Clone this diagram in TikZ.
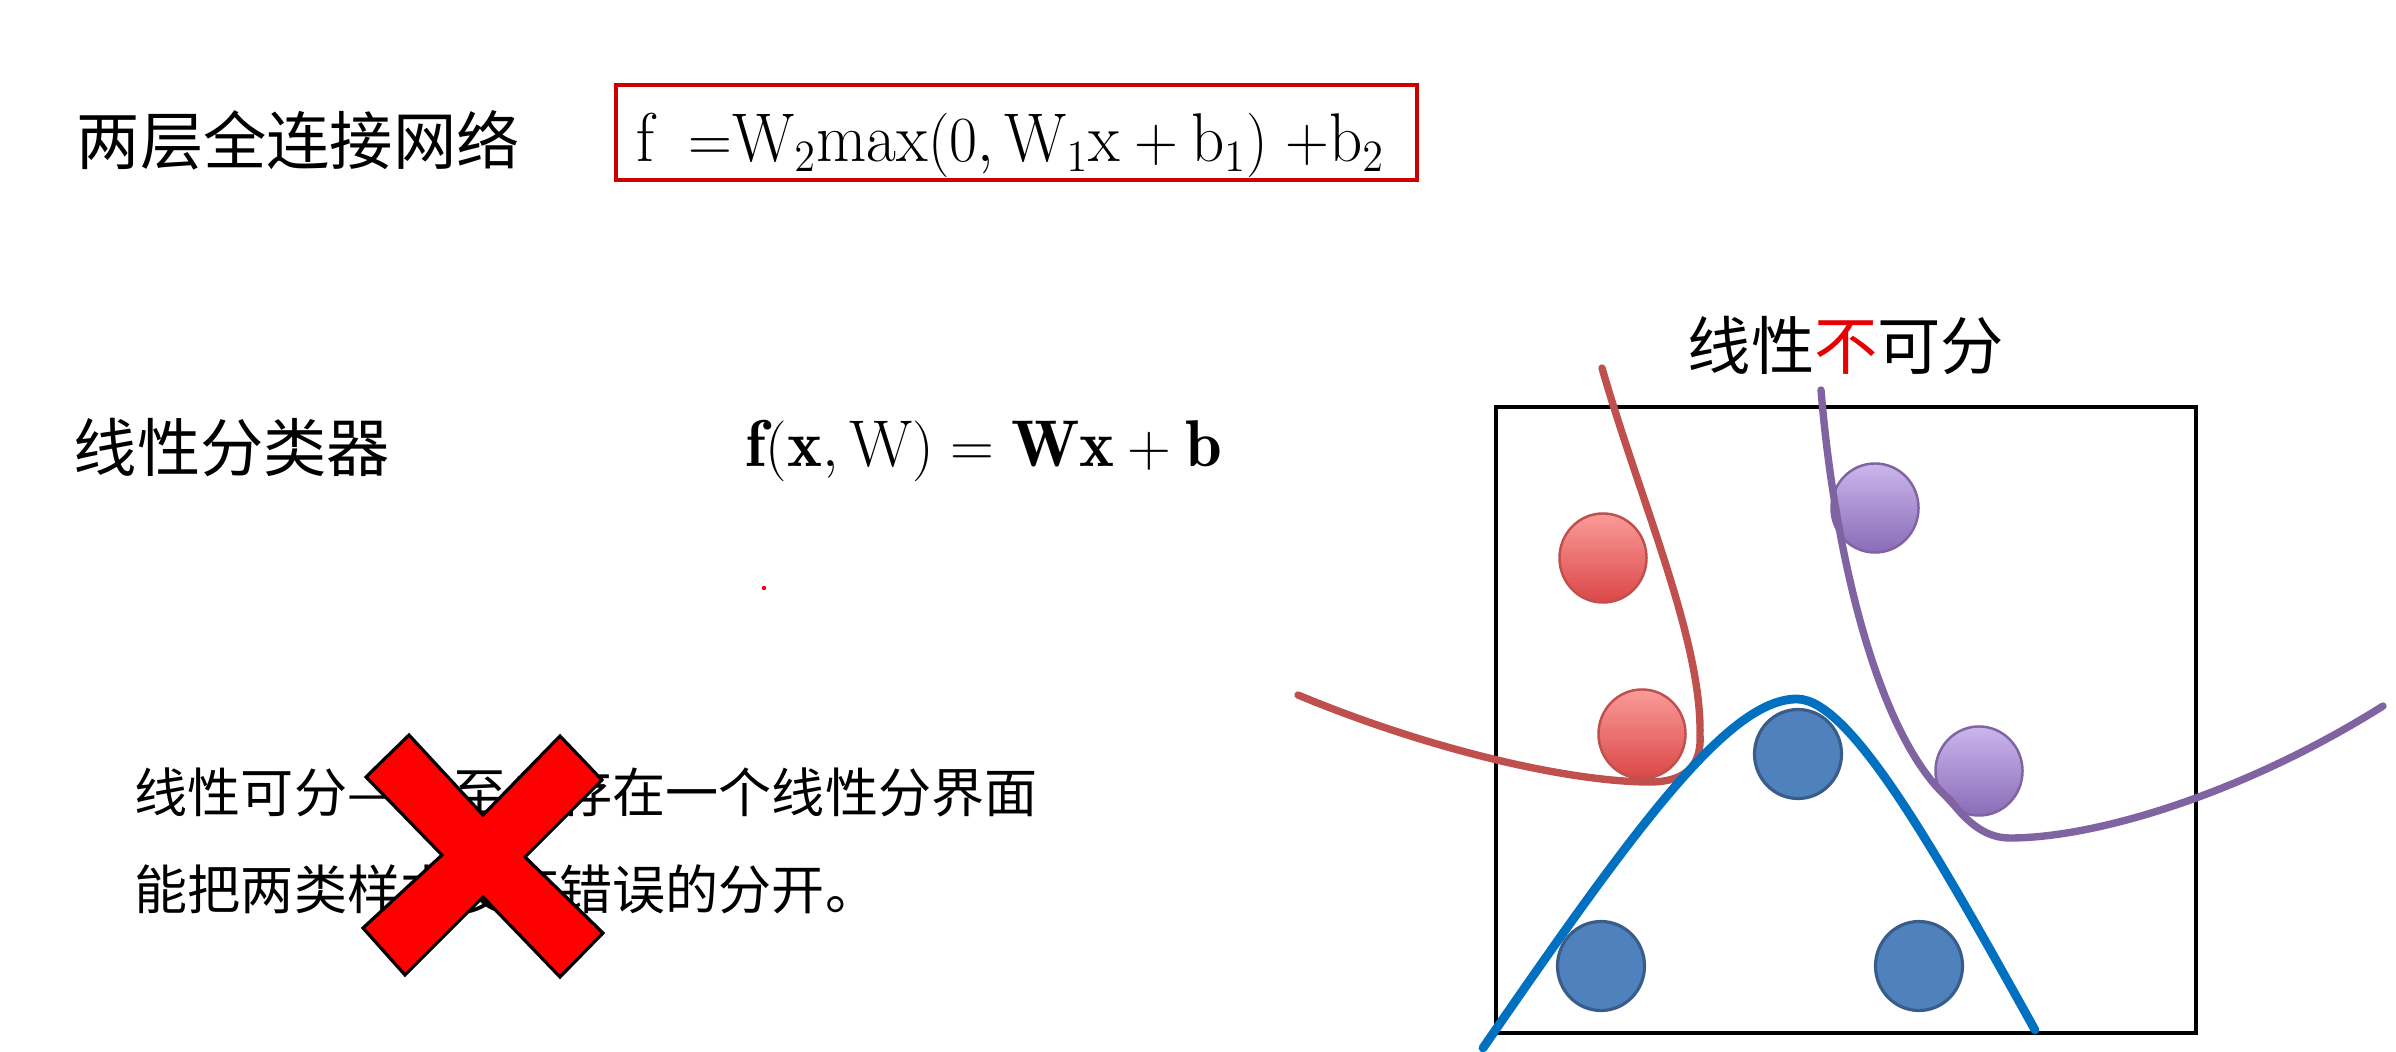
\documentclass[tikz,border=0pt]{standalone}
\usepackage{fontspec}
\usepackage{amsmath}
\usepackage{graphicx}
\newfontfamily\cjk{Noto Sans CJK SC}
\usetikzlibrary{shapes.geometric}
\definecolor{redcurve}{RGB}{192,80,77}
\definecolor{purplecurve}{RGB}{128,100,162}
\definecolor{bluecurve}{RGB}{0,112,192}
\definecolor{bluefill}{RGB}{79,129,189}
\definecolor{bluedraw}{RGB}{56,93,138}
\definecolor{redtop}{RGB}{250,155,152}
\definecolor{redbot}{RGB}{218,72,72}
\definecolor{purtop}{RGB}{202,182,236}
\definecolor{purbot}{RGB}{138,108,184}
\definecolor{boxred}{RGB}{204,0,0}
\definecolor{titlered}{RGB}{230,0,0}
\begin{document}
\begin{tikzpicture}[x=0.01cm,y=-0.01cm,
  bigtext/.style={font=\cjk\fontsize{18pt}{22pt}\selectfont, inner sep=0pt, anchor=west},
  bodytext/.style={font=\cjk\fontsize{15.1pt}{19pt}\selectfont, inner sep=0pt, anchor=west},
  mathtext/.style={inner sep=0pt, anchor=base west},
  dotbase/.style={ellipse, minimum width=0.87cm, minimum height=0.89cm, inner sep=0pt, line width=0.7pt},
  reddot/.style={dotbase, draw=redcurve, top color=redtop, bottom color=redbot},
  purdot/.style={dotbase, draw=purplecurve, top color=purtop, bottom color=purbot},
  bluedot/.style={dotbase, draw=bluedraw, fill=bluefill, line width=0.9pt},
  curve/.style={line width=2.1pt, line cap=round}
]
\useasboundingbox (0,0) rectangle (2396,1052);
\fill[white] (0,0) rectangle (2396,1052);

% left column texts
\node[bigtext] (t1) at (76,140) {两层全连接网络};
\node[draw=boxred, line width=1pt, minimum width=8.01cm, minimum height=0.95cm, inner sep=0pt] (f1box) at (1016.5,132.5) {};
\node[mathtext, font=\fontsize{18.5pt}{22pt}\selectfont] (f1) at (636,162)
  {\scalebox{1}[1.06]{$\mathrm{f}\;\;{=}\mathrm{W}_2\mathrm{max}(0,\mathrm{W}_1\mathrm{x}+\mathrm{b}_1)\;{+}\mathrm{b}_2$}};

\node[bigtext] (t2) at (73,447) {线性分类器};
\node[mathtext, font=\fontsize{18.8pt}{22pt}\selectfont] (f2) at (745,467)
  {$\mathbf{f}(\mathbf{x},\mathrm{W})=\mathbf{Wx}+\mathbf{b}$};
\fill[red] (764,588) circle (2.2);

\node[bodytext] (l1) at (134,792) {线性可分\makebox[1em][l]{—}\makebox[1em][l]{—}至少存在一个线性分界面};
\node[bodytext] (l2) at (134,889) {能把两类样本没有错误的分开。};

% red cross
\draw[fill=red, draw=black, line width=0.9pt, line join=miter]
  (409,735) -- (366,777) -- (442,855) -- (363,928) -- (405,975) -- (483,897)
  -- (560,977) -- (603,933) -- (525,857) -- (602,780) -- (560,736) -- (483,815) -- cycle;

% right panel
\node[font=\cjk\fontsize{18pt}{22pt}\selectfont, inner sep=0pt] (t3) at (1846,345)
  {线性\textcolor{titlered}{不}可分};
\draw[line width=1.4pt] (1496,407) rectangle (2196,1033);

\node[reddot] (r1) at (1603,558) {};
\node[reddot] (r2) at (1642,734) {};
\node[purdot] (p1) at (1875,508) {};
\node[purdot] (p2) at (1979,771) {};
\node[bluedot] (b1) at (1798,754) {};
\node[bluedot] (b2) at (1601,966) {};
\node[bluedot] (b3) at (1919,966) {};

% red boundary
\draw[curve, redcurve] (1602,368) .. controls (1640,500) and (1702,640) .. (1700,735)
  .. controls (1702,770) and (1680,782) .. (1650,782)
  .. controls (1570,782) and (1430,750) .. (1298,695);
% purple boundary
\draw[curve, purplecurve] (1821,390) .. controls (1835,560) and (1880,740) .. (1950,800)
  .. controls (1970,826) and (1988,838) .. (2010,838)
  .. controls (2100,838) and (2250,790) .. (2383,706);
% blue boundary
\draw[curve, bluecurve, line width=2.5pt] (1483,1048) .. controls (1640,820) and (1730,699) .. (1797,699)
  .. controls (1850,699) and (1935,850) .. (2035,1030);
\end{tikzpicture}
\end{document}
